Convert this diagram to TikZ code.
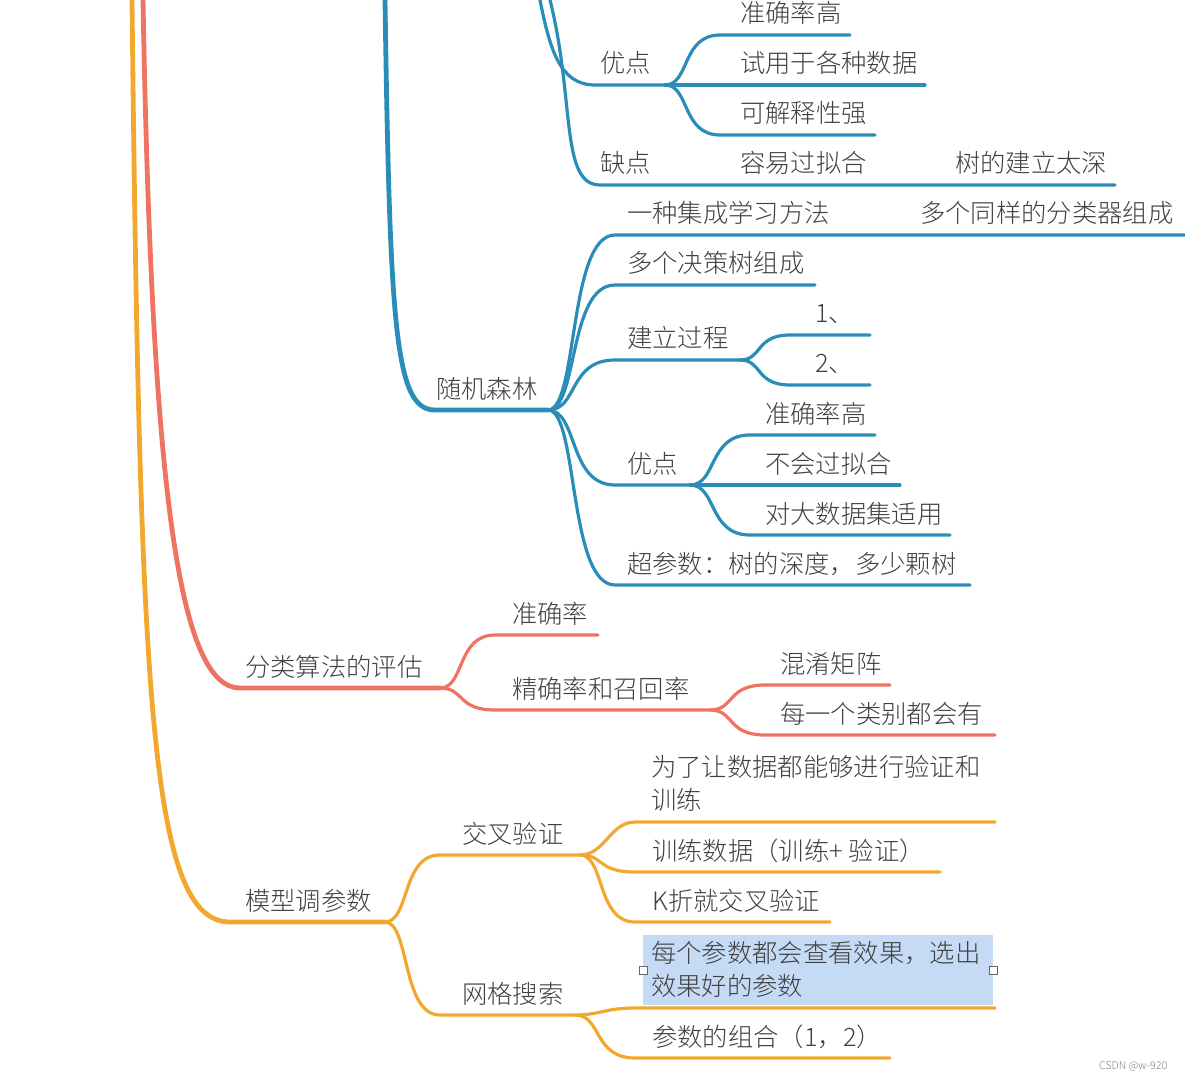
\documentclass[tikz,border=0pt]{standalone}
\usepackage{fontspec}
\setmainfont{Noto Sans CJK SC Light}
\definecolor{cb}{HTML}{2A8DB8}
\definecolor{cr}{HTML}{F07362}
\definecolor{co}{HTML}{F2A72E}
\definecolor{hl}{HTML}{C5DBF5}
\tikzset{
 lbl/.style={anchor=base west,inner sep=0pt,font=\fontsize{19}{25}\selectfont,text=black!75},
 ln/.style={line width=2.4pt,line cap=round},
 trunk/.style={line width=3.6pt,line cap=round},
}
% color, jx, jy, curve end x, y, underline end x, text x, text
\newcommand\mbr[8]{%
 \draw[ln,#1] (#2,#3) .. controls ({#2+0.45*(#4-#2)},#3) and ({#2+0.3*(#4-#2)},#5) .. (#4,#5) -- (#6,#5);
 \node[lbl] at (#7,{#5-12}) {#8};}
\begin{document}
\begin{tikzpicture}[x=0.75pt,y=-0.75pt]
\useasboundingbox (0,0) rectangle (1185,1080);
% main trunks
\draw[trunk,co] (132,0) .. controls (140,700) and (150,922) .. (230,922) -- (385,922);
\draw[trunk,cr] (143,0) .. controls (152,500) and (180,688) .. (240,688) -- (440,688);
\node[lbl] at (245,676) {分类算法的评估};
\node[lbl] at (245,910) {模型调参数};
% blue trunk
\draw[trunk,cb] (385,0) .. controls (390,330) and (395,410) .. (435,410) -- (548,410);
\node[lbl] at (436,398) {随机森林};
\draw[ln,cb] (540,0) .. controls (550,50) and (560,85) .. (595,85) -- (665,85);
\draw[ln,cb] (550,0) .. controls (575,100) and (560,185) .. (600,185) -- (1115,185);
\node[lbl] at (600,73) {优点};
\node[lbl] at (600,173) {缺点};
\node[lbl] at (740,173) {容易过拟合};
\node[lbl] at (955,173) {树的建立太深};
\mbr{cb}{665}{85}{720}{35}{850}{740}{准确率高}
\mbr{cb}{665}{85}{720}{85}{925}{740}{试用于各种数据}
\mbr{cb}{665}{85}{720}{135}{875}{740}{可解释性强}
% random forest children
\mbr{cb}{548}{410}{615}{235}{1185}{627}{一种集成学习方法}
\node[lbl] at (920,223) {多个同样的分类器组成};
\mbr{cb}{548}{410}{615}{285}{815}{627}{多个决策树组成}
\mbr{cb}{548}{410}{615}{360}{740}{627}{建立过程}
\mbr{cb}{740}{360}{790}{335}{870}{815}{1、}
\mbr{cb}{740}{360}{790}{385}{870}{815}{2、}
\mbr{cb}{548}{410}{615}{485}{690}{627}{优点}
\mbr{cb}{690}{485}{750}{435}{875}{765}{准确率高}
\mbr{cb}{690}{485}{750}{485}{900}{765}{不会过拟合}
\mbr{cb}{690}{485}{750}{535}{950}{765}{对大数据集适用}
\mbr{cb}{548}{410}{615}{585}{970}{627}{超参数：树的深度，多少颗树}
% red
\mbr{cr}{440}{688}{495}{635}{598}{512}{准确率}
\mbr{cr}{440}{688}{495}{710}{710}{512}{精确率和召回率}
\mbr{cr}{710}{710}{765}{685}{890}{780}{混淆矩阵}
\mbr{cr}{710}{710}{765}{735}{995}{780}{每一个类别都会有}
% orange
\mbr{co}{385}{922}{440}{855}{580}{462}{交叉验证}
\draw[ln,co] (580,855) .. controls (605,855) and (610,822) .. (635,822) -- (995,822);
\node[lbl,anchor=south west,align=left] at (651,812) {为了让数据都能够进行验证和\\训练};
\mbr{co}{580}{855}{635}{872}{940}{652}{训练数据（训练+ 验证）}
\mbr{co}{580}{855}{635}{922}{830}{652}{K折就交叉验证}
\fill[hl] (643,935) rectangle (993,1005);
\draw[black!60,fill=white] (639,966) rectangle (647,974) (989,966) rectangle (997,974);
\mbr{co}{385}{922}{440}{1015}{575}{462}{网格搜索}
\draw[ln,co] (575,1015) .. controls (600,1015) and (605,1008) .. (635,1008) -- (995,1008);
\node[lbl,anchor=south west,align=left] at (651,998) {每个参数都会查看效果，选出\\效果好的参数};
\mbr{co}{575}{1015}{635}{1058}{890}{652}{参数的组合（1，2）}
\node[anchor=east,font=\fontsize{8}{9}\selectfont,text=black!50] at (1172,1066) {CSDN @w-920};
\end{tikzpicture}
\end{document}
